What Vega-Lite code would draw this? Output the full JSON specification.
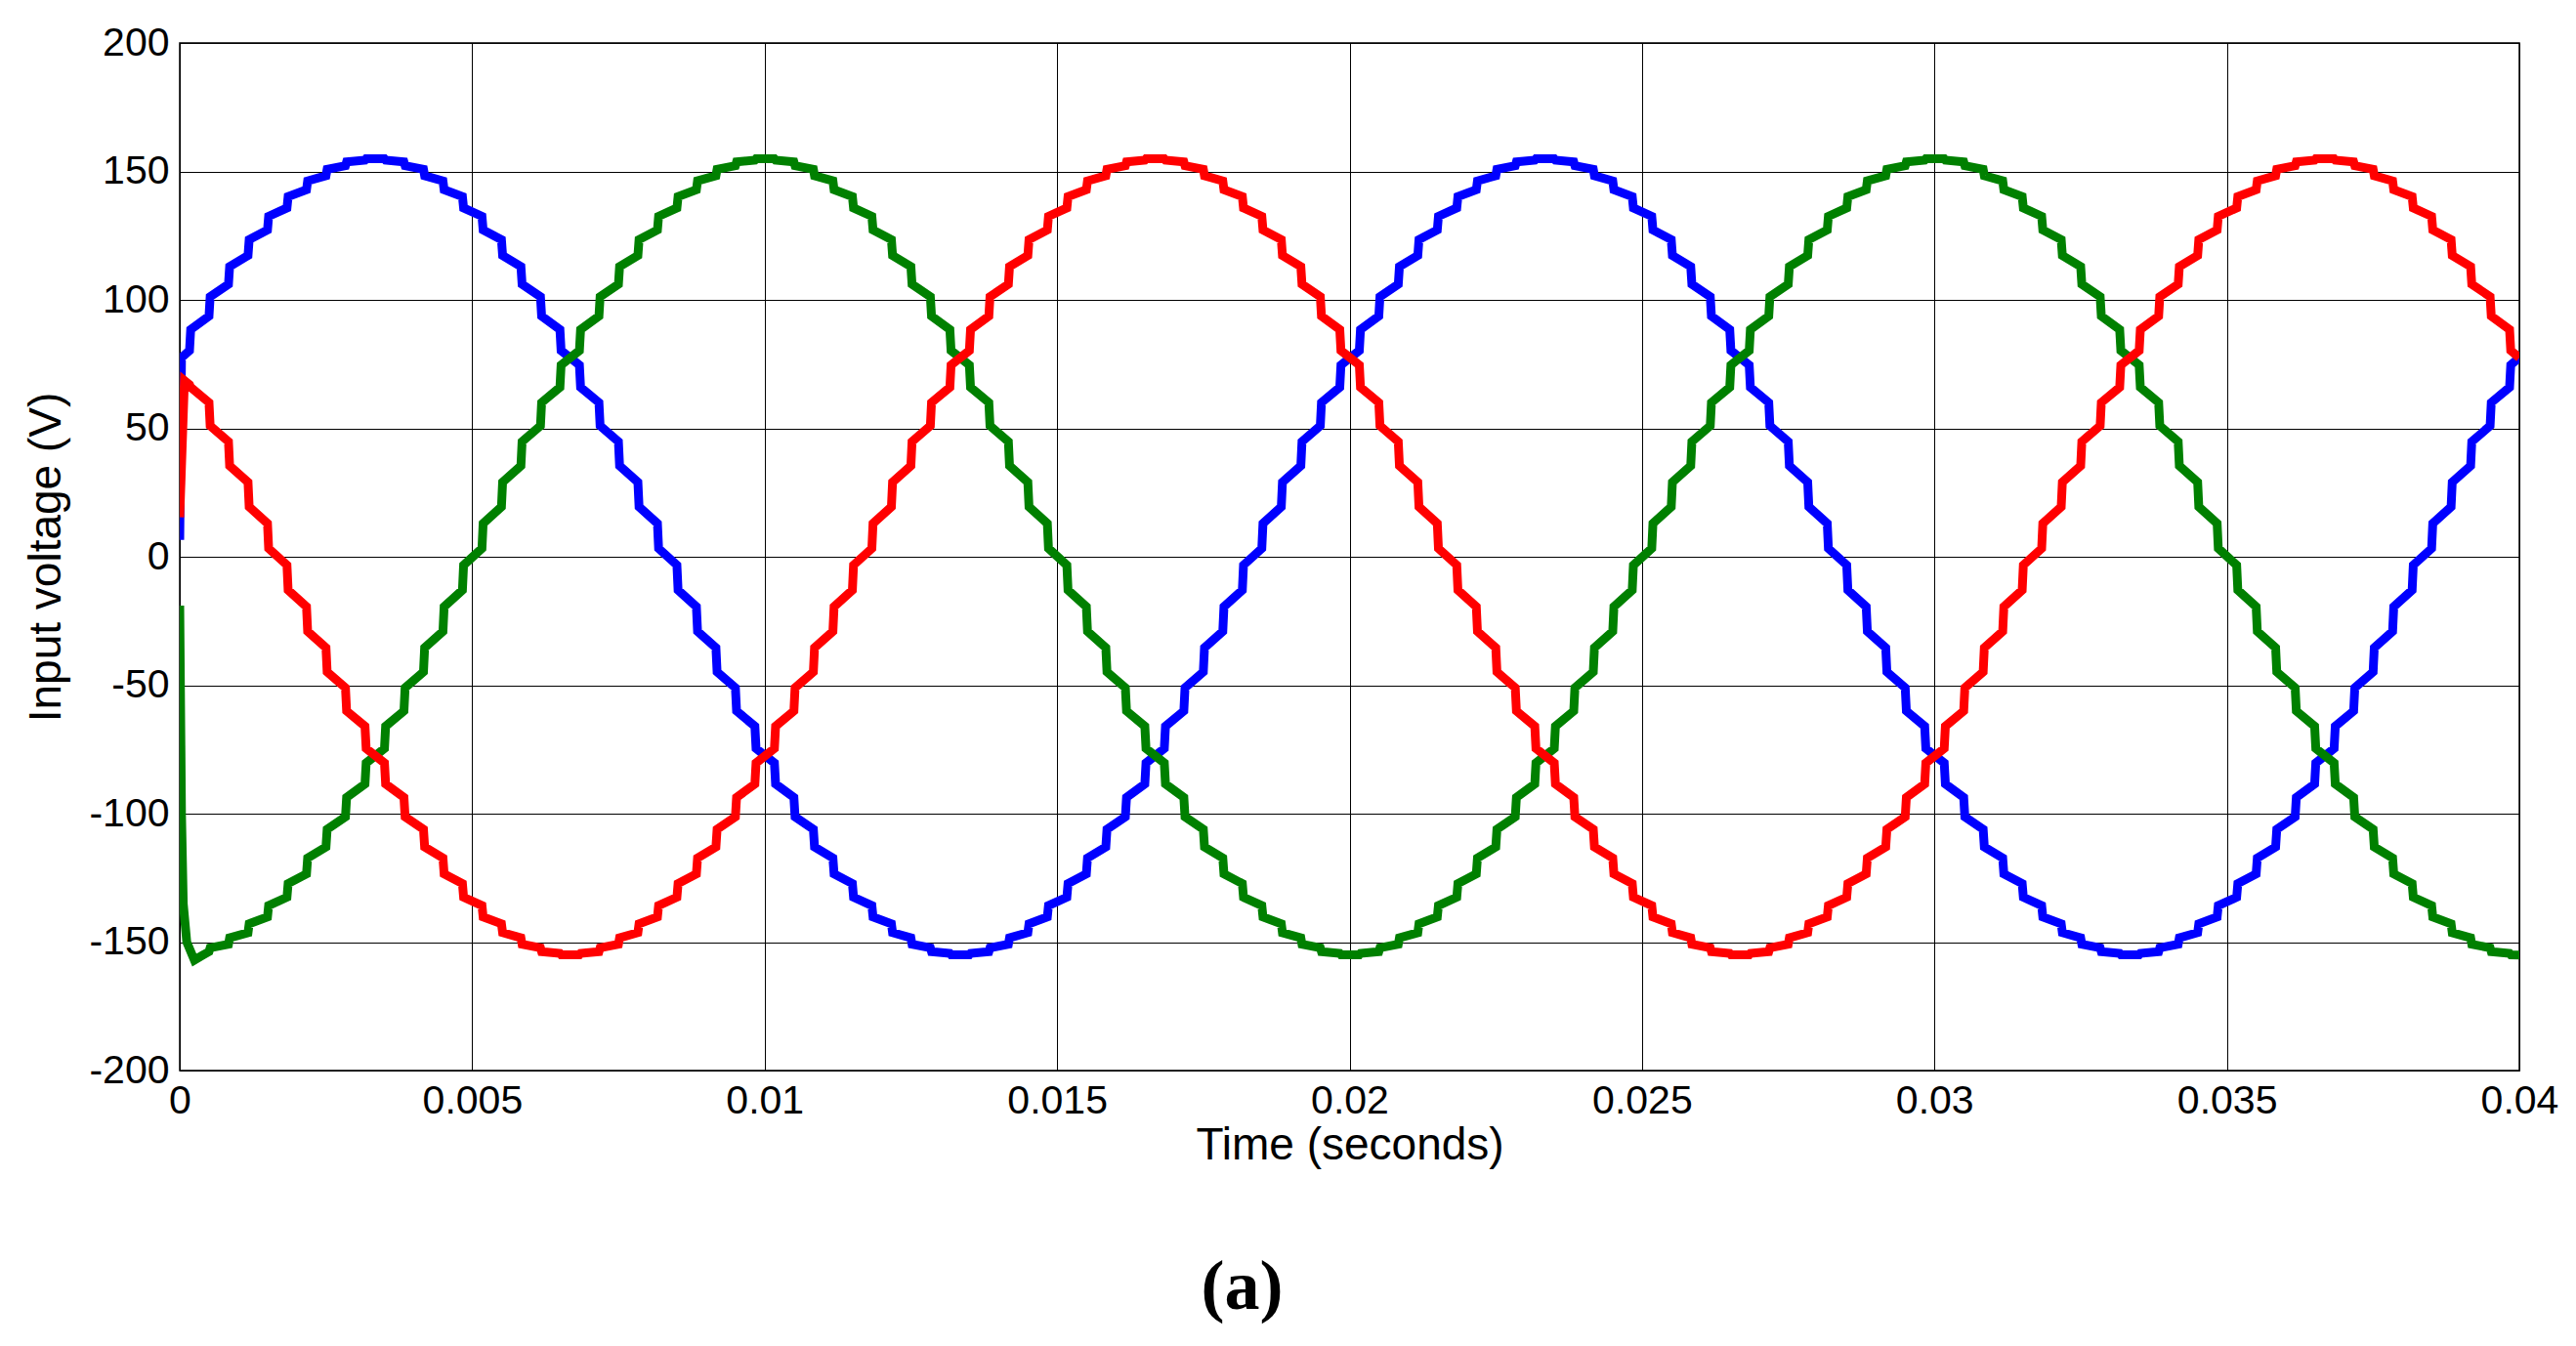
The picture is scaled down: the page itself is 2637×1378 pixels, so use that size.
{
"$schema":"https://vega.github.io/schema/vega-lite/v6.json",
"width":2395,"height":1052,
"autosize":"none",
"padding":{"left":184,"top":44,"right":58,"bottom":282},
"background":"white",
"title":{"text":"(a)","orient":"bottom","anchor":"middle","font":"Liberation Serif","fontSize":72,"fontWeight":"bold","color":"black","offset":88,"dx":-110},
"datasets":{
"blue":[{"t":0,"v":6.6},{"t":0.00003,"v":77.5},
{"t":0.000167,"v":80.27},{"t":0.000187,"v":88.44},{"t":0.0005,"v":93.69},{"t":0.00052,"v":101.25},{"t":0.000833,"v":106.07},{"t":0.000853,"v":112.95},{"t":0.001167,"v":117.29},{"t":0.001187,"v":123.42},{"t":0.0015,"v":127.24},{"t":0.00152,"v":132.54},
{"t":0.001833,"v":135.78},{"t":0.001853,"v":140.2},{"t":0.002167,"v":142.84},{"t":0.002187,"v":146.33},{"t":0.0025,"v":148.34},{"t":0.00252,"v":150.86},{"t":0.002833,"v":152.21},{"t":0.002853,"v":153.73},{"t":0.003167,"v":154.41},{"t":0.003187,"v":154.92},
{"t":0.0035,"v":154.92},{"t":0.00352,"v":154.41},{"t":0.003833,"v":153.73},{"t":0.003853,"v":152.21},{"t":0.004167,"v":150.86},{"t":0.004187,"v":148.34},{"t":0.0045,"v":146.33},{"t":0.00452,"v":142.84},{"t":0.004833,"v":140.2},{"t":0.004853,"v":135.78},
{"t":0.005167,"v":132.54},{"t":0.005187,"v":127.24},{"t":0.0055,"v":123.42},{"t":0.00552,"v":117.29},{"t":0.005833,"v":112.95},{"t":0.005853,"v":106.07},{"t":0.006167,"v":101.25},{"t":0.006187,"v":93.69},{"t":0.0065,"v":88.44},{"t":0.00652,"v":80.27},
{"t":0.006833,"v":74.65},{"t":0.006853,"v":65.97},{"t":0.007167,"v":60.04},{"t":0.007187,"v":50.96},{"t":0.0075,"v":44.79},{"t":0.00752,"v":35.39},{"t":0.007833,"v":29.04},{"t":0.007853,"v":19.42},{"t":0.008167,"v":12.97},{"t":0.008187,"v":3.25},
{"t":0.0085,"v":-3.25},{"t":0.00852,"v":-12.97},{"t":0.008833,"v":-19.42},{"t":0.008853,"v":-29.04},{"t":0.009167,"v":-35.39},{"t":0.009187,"v":-44.79},{"t":0.0095,"v":-50.96},{"t":0.00952,"v":-60.04},{"t":0.009833,"v":-65.97},{"t":0.009853,"v":-74.65},
{"t":0.010167,"v":-80.27},{"t":0.010187,"v":-88.44},{"t":0.0105,"v":-93.69},{"t":0.01052,"v":-101.25},{"t":0.010833,"v":-106.07},{"t":0.010853,"v":-112.95},{"t":0.011167,"v":-117.29},{"t":0.011187,"v":-123.42},{"t":0.0115,"v":-127.24},{"t":0.01152,"v":-132.54},
{"t":0.011833,"v":-135.78},{"t":0.011853,"v":-140.2},{"t":0.012167,"v":-142.84},{"t":0.012187,"v":-146.33},{"t":0.0125,"v":-148.34},{"t":0.01252,"v":-150.86},{"t":0.012833,"v":-152.21},{"t":0.012853,"v":-153.73},{"t":0.013167,"v":-154.41},{"t":0.013187,"v":-154.92},
{"t":0.0135,"v":-154.92},{"t":0.01352,"v":-154.41},{"t":0.013833,"v":-153.73},{"t":0.013853,"v":-152.21},{"t":0.014167,"v":-150.86},{"t":0.014187,"v":-148.34},{"t":0.0145,"v":-146.33},{"t":0.01452,"v":-142.84},{"t":0.014833,"v":-140.2},{"t":0.014853,"v":-135.78},
{"t":0.015167,"v":-132.54},{"t":0.015187,"v":-127.24},{"t":0.0155,"v":-123.42},{"t":0.01552,"v":-117.29},{"t":0.015833,"v":-112.95},{"t":0.015853,"v":-106.07},{"t":0.016167,"v":-101.25},{"t":0.016187,"v":-93.69},{"t":0.0165,"v":-88.44},{"t":0.01652,"v":-80.27},
{"t":0.016833,"v":-74.65},{"t":0.016853,"v":-65.97},{"t":0.017167,"v":-60.04},{"t":0.017187,"v":-50.96},{"t":0.0175,"v":-44.79},{"t":0.01752,"v":-35.39},{"t":0.017833,"v":-29.04},{"t":0.017853,"v":-19.42},{"t":0.018167,"v":-12.97},{"t":0.018187,"v":-3.25},
{"t":0.0185,"v":3.25},{"t":0.01852,"v":12.97},{"t":0.018833,"v":19.42},{"t":0.018853,"v":29.04},{"t":0.019167,"v":35.39},{"t":0.019187,"v":44.79},{"t":0.0195,"v":50.96},{"t":0.01952,"v":60.04},{"t":0.019833,"v":65.97},{"t":0.019853,"v":74.65},
{"t":0.020167,"v":80.27},{"t":0.020187,"v":88.44},{"t":0.0205,"v":93.69},{"t":0.02052,"v":101.25},{"t":0.020833,"v":106.07},{"t":0.020853,"v":112.95},{"t":0.021167,"v":117.29},{"t":0.021187,"v":123.42},{"t":0.0215,"v":127.24},{"t":0.02152,"v":132.54},
{"t":0.021833,"v":135.78},{"t":0.021853,"v":140.2},{"t":0.022167,"v":142.84},{"t":0.022187,"v":146.33},{"t":0.0225,"v":148.34},{"t":0.02252,"v":150.86},{"t":0.022833,"v":152.21},{"t":0.022853,"v":153.73},{"t":0.023167,"v":154.41},{"t":0.023187,"v":154.92},
{"t":0.0235,"v":154.92},{"t":0.02352,"v":154.41},{"t":0.023833,"v":153.73},{"t":0.023853,"v":152.21},{"t":0.024167,"v":150.86},{"t":0.024187,"v":148.34},{"t":0.0245,"v":146.33},{"t":0.02452,"v":142.84},{"t":0.024833,"v":140.2},{"t":0.024853,"v":135.78},
{"t":0.025167,"v":132.54},{"t":0.025187,"v":127.24},{"t":0.0255,"v":123.42},{"t":0.02552,"v":117.29},{"t":0.025833,"v":112.95},{"t":0.025853,"v":106.07},{"t":0.026167,"v":101.25},{"t":0.026187,"v":93.69},{"t":0.0265,"v":88.44},{"t":0.02652,"v":80.27},
{"t":0.026833,"v":74.65},{"t":0.026853,"v":65.97},{"t":0.027167,"v":60.04},{"t":0.027187,"v":50.96},{"t":0.0275,"v":44.79},{"t":0.02752,"v":35.39},{"t":0.027833,"v":29.04},{"t":0.027853,"v":19.42},{"t":0.028167,"v":12.97},{"t":0.028187,"v":3.25},
{"t":0.0285,"v":-3.25},{"t":0.02852,"v":-12.97},{"t":0.028833,"v":-19.42},{"t":0.028853,"v":-29.04},{"t":0.029167,"v":-35.39},{"t":0.029187,"v":-44.79},{"t":0.0295,"v":-50.96},{"t":0.02952,"v":-60.04},{"t":0.029833,"v":-65.97},{"t":0.029853,"v":-74.65},
{"t":0.030167,"v":-80.27},{"t":0.030187,"v":-88.44},{"t":0.0305,"v":-93.69},{"t":0.03052,"v":-101.25},{"t":0.030833,"v":-106.07},{"t":0.030853,"v":-112.95},{"t":0.031167,"v":-117.29},{"t":0.031187,"v":-123.42},{"t":0.0315,"v":-127.24},{"t":0.03152,"v":-132.54},
{"t":0.031833,"v":-135.78},{"t":0.031853,"v":-140.2},{"t":0.032167,"v":-142.84},{"t":0.032187,"v":-146.33},{"t":0.0325,"v":-148.34},{"t":0.03252,"v":-150.86},{"t":0.032833,"v":-152.21},{"t":0.032853,"v":-153.73},{"t":0.033167,"v":-154.41},{"t":0.033187,"v":-154.92},
{"t":0.0335,"v":-154.92},{"t":0.03352,"v":-154.41},{"t":0.033833,"v":-153.73},{"t":0.033853,"v":-152.21},{"t":0.034167,"v":-150.86},{"t":0.034187,"v":-148.34},{"t":0.0345,"v":-146.33},{"t":0.03452,"v":-142.84},{"t":0.034833,"v":-140.2},{"t":0.034853,"v":-135.78},
{"t":0.035167,"v":-132.54},{"t":0.035187,"v":-127.24},{"t":0.0355,"v":-123.42},{"t":0.03552,"v":-117.29},{"t":0.035833,"v":-112.95},{"t":0.035853,"v":-106.07},{"t":0.036167,"v":-101.25},{"t":0.036187,"v":-93.69},{"t":0.0365,"v":-88.44},{"t":0.03652,"v":-80.27},
{"t":0.036833,"v":-74.65},{"t":0.036853,"v":-65.97},{"t":0.037167,"v":-60.04},{"t":0.037187,"v":-50.96},{"t":0.0375,"v":-44.79},{"t":0.03752,"v":-35.39},{"t":0.037833,"v":-29.04},{"t":0.037853,"v":-19.42},{"t":0.038167,"v":-12.97},{"t":0.038187,"v":-3.25},
{"t":0.0385,"v":3.25},{"t":0.03852,"v":12.97},{"t":0.038833,"v":19.42},{"t":0.038853,"v":29.04},{"t":0.039167,"v":35.39},{"t":0.039187,"v":44.79},{"t":0.0395,"v":50.96},{"t":0.03952,"v":60.04},{"t":0.039833,"v":65.97},{"t":0.039853,"v":74.65},
{"t":0.04,"v":77.5}],
"green":[{"t":0,"v":-19},{"t":0.00003,"v":-100},{"t":0.00006,"v":-135},{"t":0.00012,"v":-150},{"t":0.00025,"v":-157},{"t":0.0004,"v":-155},
{"t":0.0005,"v":-153.73},{"t":0.00052,"v":-152.21},{"t":0.000833,"v":-150.86},{"t":0.000853,"v":-148.34},{"t":0.001167,"v":-146.33},{"t":0.001187,"v":-142.84},{"t":0.0015,"v":-140.2},{"t":0.00152,"v":-135.78},
{"t":0.001833,"v":-132.54},{"t":0.001853,"v":-127.24},{"t":0.002167,"v":-123.42},{"t":0.002187,"v":-117.29},{"t":0.0025,"v":-112.95},{"t":0.00252,"v":-106.07},{"t":0.002833,"v":-101.25},{"t":0.002853,"v":-93.69},{"t":0.003167,"v":-88.44},{"t":0.003187,"v":-80.27},
{"t":0.0035,"v":-74.65},{"t":0.00352,"v":-65.97},{"t":0.003833,"v":-60.04},{"t":0.003853,"v":-50.96},{"t":0.004167,"v":-44.79},{"t":0.004187,"v":-35.39},{"t":0.0045,"v":-29.04},{"t":0.00452,"v":-19.42},{"t":0.004833,"v":-12.97},{"t":0.004853,"v":-3.25},
{"t":0.005167,"v":3.25},{"t":0.005187,"v":12.97},{"t":0.0055,"v":19.42},{"t":0.00552,"v":29.04},{"t":0.005833,"v":35.39},{"t":0.005853,"v":44.79},{"t":0.006167,"v":50.96},{"t":0.006187,"v":60.04},{"t":0.0065,"v":65.97},{"t":0.00652,"v":74.65},
{"t":0.006833,"v":80.27},{"t":0.006853,"v":88.44},{"t":0.007167,"v":93.69},{"t":0.007187,"v":101.25},{"t":0.0075,"v":106.07},{"t":0.00752,"v":112.95},{"t":0.007833,"v":117.29},{"t":0.007853,"v":123.42},{"t":0.008167,"v":127.24},{"t":0.008187,"v":132.54},
{"t":0.0085,"v":135.78},{"t":0.00852,"v":140.2},{"t":0.008833,"v":142.84},{"t":0.008853,"v":146.33},{"t":0.009167,"v":148.34},{"t":0.009187,"v":150.86},{"t":0.0095,"v":152.21},{"t":0.00952,"v":153.73},{"t":0.009833,"v":154.41},{"t":0.009853,"v":154.92},
{"t":0.010167,"v":154.92},{"t":0.010187,"v":154.41},{"t":0.0105,"v":153.73},{"t":0.01052,"v":152.21},{"t":0.010833,"v":150.86},{"t":0.010853,"v":148.34},{"t":0.011167,"v":146.33},{"t":0.011187,"v":142.84},{"t":0.0115,"v":140.2},{"t":0.01152,"v":135.78},
{"t":0.011833,"v":132.54},{"t":0.011853,"v":127.24},{"t":0.012167,"v":123.42},{"t":0.012187,"v":117.29},{"t":0.0125,"v":112.95},{"t":0.01252,"v":106.07},{"t":0.012833,"v":101.25},{"t":0.012853,"v":93.69},{"t":0.013167,"v":88.44},{"t":0.013187,"v":80.27},
{"t":0.0135,"v":74.65},{"t":0.01352,"v":65.97},{"t":0.013833,"v":60.04},{"t":0.013853,"v":50.96},{"t":0.014167,"v":44.79},{"t":0.014187,"v":35.39},{"t":0.0145,"v":29.04},{"t":0.01452,"v":19.42},{"t":0.014833,"v":12.97},{"t":0.014853,"v":3.25},
{"t":0.015167,"v":-3.25},{"t":0.015187,"v":-12.97},{"t":0.0155,"v":-19.42},{"t":0.01552,"v":-29.04},{"t":0.015833,"v":-35.39},{"t":0.015853,"v":-44.79},{"t":0.016167,"v":-50.96},{"t":0.016187,"v":-60.04},{"t":0.0165,"v":-65.97},{"t":0.01652,"v":-74.65},
{"t":0.016833,"v":-80.27},{"t":0.016853,"v":-88.44},{"t":0.017167,"v":-93.69},{"t":0.017187,"v":-101.25},{"t":0.0175,"v":-106.07},{"t":0.01752,"v":-112.95},{"t":0.017833,"v":-117.29},{"t":0.017853,"v":-123.42},{"t":0.018167,"v":-127.24},{"t":0.018187,"v":-132.54},
{"t":0.0185,"v":-135.78},{"t":0.01852,"v":-140.2},{"t":0.018833,"v":-142.84},{"t":0.018853,"v":-146.33},{"t":0.019167,"v":-148.34},{"t":0.019187,"v":-150.86},{"t":0.0195,"v":-152.21},{"t":0.01952,"v":-153.73},{"t":0.019833,"v":-154.41},{"t":0.019853,"v":-154.92},
{"t":0.020167,"v":-154.92},{"t":0.020187,"v":-154.41},{"t":0.0205,"v":-153.73},{"t":0.02052,"v":-152.21},{"t":0.020833,"v":-150.86},{"t":0.020853,"v":-148.34},{"t":0.021167,"v":-146.33},{"t":0.021187,"v":-142.84},{"t":0.0215,"v":-140.2},{"t":0.02152,"v":-135.78},
{"t":0.021833,"v":-132.54},{"t":0.021853,"v":-127.24},{"t":0.022167,"v":-123.42},{"t":0.022187,"v":-117.29},{"t":0.0225,"v":-112.95},{"t":0.02252,"v":-106.07},{"t":0.022833,"v":-101.25},{"t":0.022853,"v":-93.69},{"t":0.023167,"v":-88.44},{"t":0.023187,"v":-80.27},
{"t":0.0235,"v":-74.65},{"t":0.02352,"v":-65.97},{"t":0.023833,"v":-60.04},{"t":0.023853,"v":-50.96},{"t":0.024167,"v":-44.79},{"t":0.024187,"v":-35.39},{"t":0.0245,"v":-29.04},{"t":0.02452,"v":-19.42},{"t":0.024833,"v":-12.97},{"t":0.024853,"v":-3.25},
{"t":0.025167,"v":3.25},{"t":0.025187,"v":12.97},{"t":0.0255,"v":19.42},{"t":0.02552,"v":29.04},{"t":0.025833,"v":35.39},{"t":0.025853,"v":44.79},{"t":0.026167,"v":50.96},{"t":0.026187,"v":60.04},{"t":0.0265,"v":65.97},{"t":0.02652,"v":74.65},
{"t":0.026833,"v":80.27},{"t":0.026853,"v":88.44},{"t":0.027167,"v":93.69},{"t":0.027187,"v":101.25},{"t":0.0275,"v":106.07},{"t":0.02752,"v":112.95},{"t":0.027833,"v":117.29},{"t":0.027853,"v":123.42},{"t":0.028167,"v":127.24},{"t":0.028187,"v":132.54},
{"t":0.0285,"v":135.78},{"t":0.02852,"v":140.2},{"t":0.028833,"v":142.84},{"t":0.028853,"v":146.33},{"t":0.029167,"v":148.34},{"t":0.029187,"v":150.86},{"t":0.0295,"v":152.21},{"t":0.02952,"v":153.73},{"t":0.029833,"v":154.41},{"t":0.029853,"v":154.92},
{"t":0.030167,"v":154.92},{"t":0.030187,"v":154.41},{"t":0.0305,"v":153.73},{"t":0.03052,"v":152.21},{"t":0.030833,"v":150.86},{"t":0.030853,"v":148.34},{"t":0.031167,"v":146.33},{"t":0.031187,"v":142.84},{"t":0.0315,"v":140.2},{"t":0.03152,"v":135.78},
{"t":0.031833,"v":132.54},{"t":0.031853,"v":127.24},{"t":0.032167,"v":123.42},{"t":0.032187,"v":117.29},{"t":0.0325,"v":112.95},{"t":0.03252,"v":106.07},{"t":0.032833,"v":101.25},{"t":0.032853,"v":93.69},{"t":0.033167,"v":88.44},{"t":0.033187,"v":80.27},
{"t":0.0335,"v":74.65},{"t":0.03352,"v":65.97},{"t":0.033833,"v":60.04},{"t":0.033853,"v":50.96},{"t":0.034167,"v":44.79},{"t":0.034187,"v":35.39},{"t":0.0345,"v":29.04},{"t":0.03452,"v":19.42},{"t":0.034833,"v":12.97},{"t":0.034853,"v":3.25},
{"t":0.035167,"v":-3.25},{"t":0.035187,"v":-12.97},{"t":0.0355,"v":-19.42},{"t":0.03552,"v":-29.04},{"t":0.035833,"v":-35.39},{"t":0.035853,"v":-44.79},{"t":0.036167,"v":-50.96},{"t":0.036187,"v":-60.04},{"t":0.0365,"v":-65.97},{"t":0.03652,"v":-74.65},
{"t":0.036833,"v":-80.27},{"t":0.036853,"v":-88.44},{"t":0.037167,"v":-93.69},{"t":0.037187,"v":-101.25},{"t":0.0375,"v":-106.07},{"t":0.03752,"v":-112.95},{"t":0.037833,"v":-117.29},{"t":0.037853,"v":-123.42},{"t":0.038167,"v":-127.24},{"t":0.038187,"v":-132.54},
{"t":0.0385,"v":-135.78},{"t":0.03852,"v":-140.2},{"t":0.038833,"v":-142.84},{"t":0.038853,"v":-146.33},{"t":0.039167,"v":-148.34},{"t":0.039187,"v":-150.86},{"t":0.0395,"v":-152.21},{"t":0.03952,"v":-153.73},{"t":0.039833,"v":-154.41},{"t":0.039853,"v":-154.92},
{"t":0.04,"v":-155}],
"red":[{"t":0,"v":15.4},{"t":0.00008,"v":68.6},
{"t":0.000167,"v":67},{"t":0.000187,"v":65.97},{"t":0.0005,"v":60.04},{"t":0.00052,"v":50.96},{"t":0.000833,"v":44.79},{"t":0.000853,"v":35.39},{"t":0.001167,"v":29.04},{"t":0.001187,"v":19.42},{"t":0.0015,"v":12.97},{"t":0.00152,"v":3.25},
{"t":0.001833,"v":-3.25},{"t":0.001853,"v":-12.97},{"t":0.002167,"v":-19.42},{"t":0.002187,"v":-29.04},{"t":0.0025,"v":-35.39},{"t":0.00252,"v":-44.79},{"t":0.002833,"v":-50.96},{"t":0.002853,"v":-60.04},{"t":0.003167,"v":-65.97},{"t":0.003187,"v":-74.65},
{"t":0.0035,"v":-80.27},{"t":0.00352,"v":-88.44},{"t":0.003833,"v":-93.69},{"t":0.003853,"v":-101.25},{"t":0.004167,"v":-106.07},{"t":0.004187,"v":-112.95},{"t":0.0045,"v":-117.29},{"t":0.00452,"v":-123.42},{"t":0.004833,"v":-127.24},{"t":0.004853,"v":-132.54},
{"t":0.005167,"v":-135.78},{"t":0.005187,"v":-140.2},{"t":0.0055,"v":-142.84},{"t":0.00552,"v":-146.33},{"t":0.005833,"v":-148.34},{"t":0.005853,"v":-150.86},{"t":0.006167,"v":-152.21},{"t":0.006187,"v":-153.73},{"t":0.0065,"v":-154.41},{"t":0.00652,"v":-154.92},
{"t":0.006833,"v":-154.92},{"t":0.006853,"v":-154.41},{"t":0.007167,"v":-153.73},{"t":0.007187,"v":-152.21},{"t":0.0075,"v":-150.86},{"t":0.00752,"v":-148.34},{"t":0.007833,"v":-146.33},{"t":0.007853,"v":-142.84},{"t":0.008167,"v":-140.2},{"t":0.008187,"v":-135.78},
{"t":0.0085,"v":-132.54},{"t":0.00852,"v":-127.24},{"t":0.008833,"v":-123.42},{"t":0.008853,"v":-117.29},{"t":0.009167,"v":-112.95},{"t":0.009187,"v":-106.07},{"t":0.0095,"v":-101.25},{"t":0.00952,"v":-93.69},{"t":0.009833,"v":-88.44},{"t":0.009853,"v":-80.27},
{"t":0.010167,"v":-74.65},{"t":0.010187,"v":-65.97},{"t":0.0105,"v":-60.04},{"t":0.01052,"v":-50.96},{"t":0.010833,"v":-44.79},{"t":0.010853,"v":-35.39},{"t":0.011167,"v":-29.04},{"t":0.011187,"v":-19.42},{"t":0.0115,"v":-12.97},{"t":0.01152,"v":-3.25},
{"t":0.011833,"v":3.25},{"t":0.011853,"v":12.97},{"t":0.012167,"v":19.42},{"t":0.012187,"v":29.04},{"t":0.0125,"v":35.39},{"t":0.01252,"v":44.79},{"t":0.012833,"v":50.96},{"t":0.012853,"v":60.04},{"t":0.013167,"v":65.97},{"t":0.013187,"v":74.65},
{"t":0.0135,"v":80.27},{"t":0.01352,"v":88.44},{"t":0.013833,"v":93.69},{"t":0.013853,"v":101.25},{"t":0.014167,"v":106.07},{"t":0.014187,"v":112.95},{"t":0.0145,"v":117.29},{"t":0.01452,"v":123.42},{"t":0.014833,"v":127.24},{"t":0.014853,"v":132.54},
{"t":0.015167,"v":135.78},{"t":0.015187,"v":140.2},{"t":0.0155,"v":142.84},{"t":0.01552,"v":146.33},{"t":0.015833,"v":148.34},{"t":0.015853,"v":150.86},{"t":0.016167,"v":152.21},{"t":0.016187,"v":153.73},{"t":0.0165,"v":154.41},{"t":0.01652,"v":154.92},
{"t":0.016833,"v":154.92},{"t":0.016853,"v":154.41},{"t":0.017167,"v":153.73},{"t":0.017187,"v":152.21},{"t":0.0175,"v":150.86},{"t":0.01752,"v":148.34},{"t":0.017833,"v":146.33},{"t":0.017853,"v":142.84},{"t":0.018167,"v":140.2},{"t":0.018187,"v":135.78},
{"t":0.0185,"v":132.54},{"t":0.01852,"v":127.24},{"t":0.018833,"v":123.42},{"t":0.018853,"v":117.29},{"t":0.019167,"v":112.95},{"t":0.019187,"v":106.07},{"t":0.0195,"v":101.25},{"t":0.01952,"v":93.69},{"t":0.019833,"v":88.44},{"t":0.019853,"v":80.27},
{"t":0.020167,"v":74.65},{"t":0.020187,"v":65.97},{"t":0.0205,"v":60.04},{"t":0.02052,"v":50.96},{"t":0.020833,"v":44.79},{"t":0.020853,"v":35.39},{"t":0.021167,"v":29.04},{"t":0.021187,"v":19.42},{"t":0.0215,"v":12.97},{"t":0.02152,"v":3.25},
{"t":0.021833,"v":-3.25},{"t":0.021853,"v":-12.97},{"t":0.022167,"v":-19.42},{"t":0.022187,"v":-29.04},{"t":0.0225,"v":-35.39},{"t":0.02252,"v":-44.79},{"t":0.022833,"v":-50.96},{"t":0.022853,"v":-60.04},{"t":0.023167,"v":-65.97},{"t":0.023187,"v":-74.65},
{"t":0.0235,"v":-80.27},{"t":0.02352,"v":-88.44},{"t":0.023833,"v":-93.69},{"t":0.023853,"v":-101.25},{"t":0.024167,"v":-106.07},{"t":0.024187,"v":-112.95},{"t":0.0245,"v":-117.29},{"t":0.02452,"v":-123.42},{"t":0.024833,"v":-127.24},{"t":0.024853,"v":-132.54},
{"t":0.025167,"v":-135.78},{"t":0.025187,"v":-140.2},{"t":0.0255,"v":-142.84},{"t":0.02552,"v":-146.33},{"t":0.025833,"v":-148.34},{"t":0.025853,"v":-150.86},{"t":0.026167,"v":-152.21},{"t":0.026187,"v":-153.73},{"t":0.0265,"v":-154.41},{"t":0.02652,"v":-154.92},
{"t":0.026833,"v":-154.92},{"t":0.026853,"v":-154.41},{"t":0.027167,"v":-153.73},{"t":0.027187,"v":-152.21},{"t":0.0275,"v":-150.86},{"t":0.02752,"v":-148.34},{"t":0.027833,"v":-146.33},{"t":0.027853,"v":-142.84},{"t":0.028167,"v":-140.2},{"t":0.028187,"v":-135.78},
{"t":0.0285,"v":-132.54},{"t":0.02852,"v":-127.24},{"t":0.028833,"v":-123.42},{"t":0.028853,"v":-117.29},{"t":0.029167,"v":-112.95},{"t":0.029187,"v":-106.07},{"t":0.0295,"v":-101.25},{"t":0.02952,"v":-93.69},{"t":0.029833,"v":-88.44},{"t":0.029853,"v":-80.27},
{"t":0.030167,"v":-74.65},{"t":0.030187,"v":-65.97},{"t":0.0305,"v":-60.04},{"t":0.03052,"v":-50.96},{"t":0.030833,"v":-44.79},{"t":0.030853,"v":-35.39},{"t":0.031167,"v":-29.04},{"t":0.031187,"v":-19.42},{"t":0.0315,"v":-12.97},{"t":0.03152,"v":-3.25},
{"t":0.031833,"v":3.25},{"t":0.031853,"v":12.97},{"t":0.032167,"v":19.42},{"t":0.032187,"v":29.04},{"t":0.0325,"v":35.39},{"t":0.03252,"v":44.79},{"t":0.032833,"v":50.96},{"t":0.032853,"v":60.04},{"t":0.033167,"v":65.97},{"t":0.033187,"v":74.65},
{"t":0.0335,"v":80.27},{"t":0.03352,"v":88.44},{"t":0.033833,"v":93.69},{"t":0.033853,"v":101.25},{"t":0.034167,"v":106.07},{"t":0.034187,"v":112.95},{"t":0.0345,"v":117.29},{"t":0.03452,"v":123.42},{"t":0.034833,"v":127.24},{"t":0.034853,"v":132.54},
{"t":0.035167,"v":135.78},{"t":0.035187,"v":140.2},{"t":0.0355,"v":142.84},{"t":0.03552,"v":146.33},{"t":0.035833,"v":148.34},{"t":0.035853,"v":150.86},{"t":0.036167,"v":152.21},{"t":0.036187,"v":153.73},{"t":0.0365,"v":154.41},{"t":0.03652,"v":154.92},
{"t":0.036833,"v":154.92},{"t":0.036853,"v":154.41},{"t":0.037167,"v":153.73},{"t":0.037187,"v":152.21},{"t":0.0375,"v":150.86},{"t":0.03752,"v":148.34},{"t":0.037833,"v":146.33},{"t":0.037853,"v":142.84},{"t":0.038167,"v":140.2},{"t":0.038187,"v":135.78},
{"t":0.0385,"v":132.54},{"t":0.03852,"v":127.24},{"t":0.038833,"v":123.42},{"t":0.038853,"v":117.29},{"t":0.039167,"v":112.95},{"t":0.039187,"v":106.07},{"t":0.0395,"v":101.25},{"t":0.03952,"v":93.69},{"t":0.039833,"v":88.44},{"t":0.039853,"v":80.27},
{"t":0.04,"v":77.5}]
},
"encoding":{
"x":{"field":"t","type":"quantitative","scale":{"domain":[0,0.04],"nice":false,"zero":false},
"axis":{"title":"Time (seconds)","values":[0,0.005,0.01,0.015,0.02,0.025,0.03,0.035,0.04],"labelExpr":"toString(datum.value)","labelPadding":11,"titlePadding":3,"labelFlush":false}},
"y":{"field":"v","type":"quantitative","scale":{"domain":[-200,200],"nice":false,"zero":false},
"axis":{"title":"Input voltage (V)","values":[-200,-150,-100,-50,0,50,100,150,200],"labelExpr":"toString(datum.value)","labelPadding":11,"titlePadding":19,"labelFlush":false}}
},
"layer":[
{"data":{"name":"blue"},"mark":{"type":"line","interpolate":"linear","color":"#0000ff","strokeWidth":9,"strokeJoin":"miter","clip":true}},
{"data":{"name":"green"},"mark":{"type":"line","interpolate":"linear","color":"#008000","strokeWidth":9,"strokeJoin":"miter","clip":true}},
{"data":{"name":"red"},"mark":{"type":"line","interpolate":"linear","color":"#ff0000","strokeWidth":9,"strokeJoin":"miter","clip":true}}
],
"config":{
"view":{"stroke":"black","strokeWidth":1.5},
"axis":{"grid":true,"gridColor":"black","gridOpacity":1,"gridWidth":1,"domain":false,"ticks":false,"tickSize":0,
"labelFont":"Liberation Sans","labelFontSize":41,"labelColor":"black",
"titleFont":"Liberation Sans","titleFontSize":46,"titleFontWeight":"normal","titleColor":"black"}
}
}
